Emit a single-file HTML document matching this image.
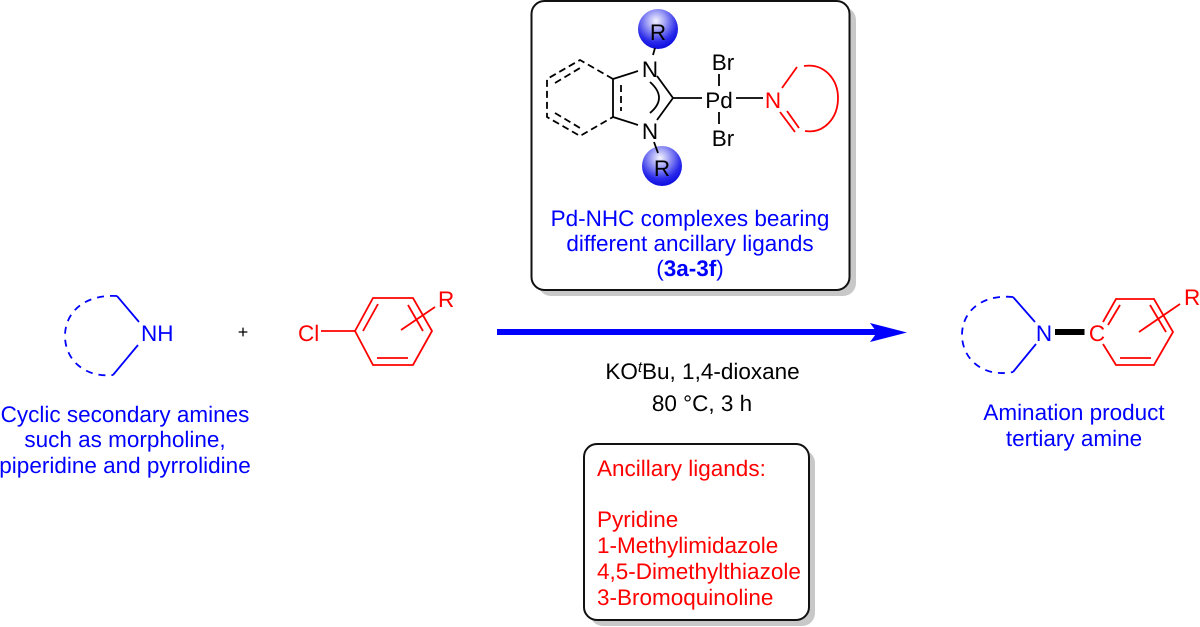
<!DOCTYPE html>
<html><head><meta charset="utf-8"><style>
html,body{margin:0;padding:0;background:#fff}
svg{display:block}
text{font-family:"Liberation Sans",sans-serif;font-size:22.5px;text-rendering:geometricPrecision}
</style></head><body>
<svg width="1200" height="627" viewBox="0 0 1200 627" xmlns="http://www.w3.org/2000/svg">
<defs>
<radialGradient id="s" cx="0.45" cy="0.3" r="0.7"><stop offset="0" stop-color="#f4f4ff"/><stop offset="0.3" stop-color="#a8a8f6"/><stop offset="0.75" stop-color="#2a2aea"/><stop offset="1" stop-color="#0c0ce0"/></radialGradient>
</defs>
<!-- top box -->
<rect x="538" y="7" width="318" height="289" rx="13" fill="#c8c8c8"/>
<rect x="531.5" y="1" width="318" height="289" rx="13" fill="#fff" stroke="#111" stroke-width="2"/>
<!-- bottom box -->
<rect x="590" y="450" width="225" height="176" rx="13" fill="#c8c8c8"/>
<rect x="584" y="444" width="225" height="176" rx="13" fill="#fff" stroke="#111" stroke-width="2"/>
<!-- spheres -->
<circle cx="658" cy="29" r="20" fill="url(#s)"/>
<circle cx="662" cy="166" r="20" fill="url(#s)"/>
<!-- NHC -->
<g stroke="#000" stroke-width="1.8" fill="none">
<path d="M613 79L580 60L547 79V117L580 136L613 117" stroke-dasharray="7 4"/>
<path d="M555 83L580 68M555 113L580 128M621 85V111" stroke-dasharray="7 4"/>
<path d="M613 79V117M613 79L638 71M613 117L638 125M657 76L673 98L657 120M673 98H702M736 98H763M719 74V86M719 112V124M653 55L655 48M654 142L658 153"/>
<path d="M650 82Q668 98 650 113"/>
</g>
<g fill="#000" text-anchor="middle">
<text x="658" y="40">R</text><text x="662" y="176">R</text>
<text x="650" y="77">N</text><text x="650" y="139">N</text>
<text x="719" y="108">Pd</text><text x="723" y="70">Br</text><text x="723" y="146">Br</text>
</g>
<g stroke="#f00" stroke-width="1.8" fill="none">
<path d="M782 88L797 67M780 112L795 132M787 111L799 128"/>
<path d="M804 66C825 63 838 80 838 98C838 118 824 134 805 131"/>
</g>
<text x="773" y="108" text-anchor="middle" fill="#f00">N</text>
<g fill="#00f" text-anchor="middle">
<text x="690" y="226">Pd-NHC complexes bearing</text>
<text x="690" y="251">different ancillary ligands</text>
<text x="690" y="276">(<tspan font-weight="bold">3a-3f</tspan>)</text>
</g>
<!-- left amine -->
<g stroke="#00f" stroke-width="1.8" fill="none">
<path d="M117 296L139 322M113 375L138 345"/>
<path d="M117 296C85 294 65 312 65 336C65 360 85 378 113 375" stroke-dasharray="7 6"/>
</g>
<text x="141" y="341" fill="#00f">NH</text>
<text x="243" y="338" text-anchor="middle" style="font-size:18px">+</text>
<!-- aryl chloride -->
<g stroke="#f00" stroke-width="1.8" fill="none">
<path d="M321 331H355L373 298H413L432 331L413 365H373L355 331"/>
<path d="M363 331L378 304M408 305L423 331M377 358H408M401 330L435 307"/>
</g>
<text x="298" y="341" fill="#f00">Cl</text>
<text x="438" y="307" fill="#f00">R</text>
<g fill="#00f" text-anchor="middle">
<text x="125" y="422">Cyclic secondary amines</text>
<text x="125" y="447">such as morpholine,</text>
<text x="125" y="473">piperidine and pyrrolidine</text>
</g>
<!-- arrow -->
<rect x="497" y="329" width="385" height="6" fill="#00f"/>
<path d="M870 323L907 332.5L870 342L877 332.5Z" fill="#00f"/>
<text x="702.5" y="379" text-anchor="middle">KO<tspan font-style="italic" dy="-7" style="font-size:15px">t</tspan><tspan dy="7">Bu, 1,4-dioxane</tspan></text>
<text x="702" y="411" text-anchor="middle">80 °C, 3 h</text>
<!-- ligands -->
<g fill="#f00">
<text x="597" y="476">Ancillary ligands:</text>
<text x="597" y="527">Pyridine</text>
<text x="597" y="553">1-Methylimidazole</text>
<text x="597" y="579">4,5-Dimethylthiazole</text>
<text x="597" y="605">3-Bromoquinoline</text>
</g>
<!-- product -->
<g stroke="#00f" stroke-width="1.8" fill="none">
<path d="M1013 297L1035 322M1013 372L1036 344"/>
<path d="M1013 297C981 294 962 312 962 335C962 358 982 378 1013 372" stroke-dasharray="7 6"/>
</g>
<text x="1044" y="341" fill="#00f" text-anchor="middle">N</text>
<rect x="1055" y="329" width="29.5" height="6" fill="#000"/>
<text x="1097" y="341" fill="#f00" text-anchor="middle">C</text>
<g stroke="#f00" stroke-width="1.8" fill="none">
<path d="M1103 322L1116 299H1154L1173 332L1154 365H1116L1103 344"/>
<path d="M1108 325L1120 305M1150 305L1166 332M1120 358H1151M1139 332L1180 304"/>
</g>
<text x="1184" y="305" fill="#f00">R</text>
<g fill="#00f" text-anchor="middle">
<text x="1074" y="420">Amination product</text>
<text x="1074" y="446">tertiary amine</text>
</g>
</svg>
</body></html>
